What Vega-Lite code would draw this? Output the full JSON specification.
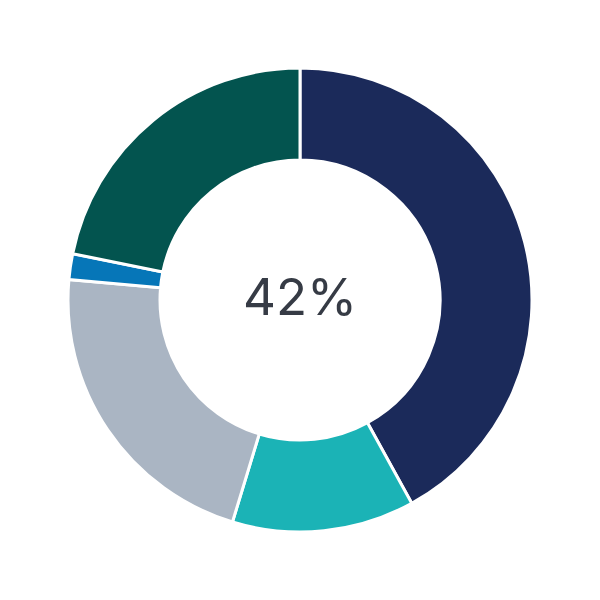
{
  "$schema": "https://vega.github.io/schema/vega-lite/v6.json",
  "width": 600,
  "height": 600,
  "autosize": {"type": "fit", "contains": "padding"},
  "padding": 0,
  "background": "white",
  "view": {"stroke": null},
  "layer": [
    {
      "data": {"values": [
        {"segment": "A", "order": 1, "value": 42.0},
        {"segment": "B", "order": 2, "value": 12.7},
        {"segment": "C", "order": 3, "value": 21.7},
        {"segment": "D", "order": 4, "value": 1.8},
        {"segment": "E", "order": 5, "value": 21.8}
      ]},
      "mark": {"type": "arc", "outerRadius": 232, "innerRadius": 140, "stroke": "white", "strokeWidth": 3},
      "encoding": {
        "theta": {"field": "value", "type": "quantitative", "stack": true},
        "order": {"field": "order", "type": "quantitative"},
        "color": {
          "field": "segment", "type": "nominal", "legend": null,
          "scale": {"domain": ["A", "B", "C", "D", "E"], "range": ["#1b2a5a", "#1bb3b6", "#aab5c3", "#0676b8", "#03544f"]}
        }
      }
    },
    {
      "data": {"values": [{"label": "42%"}]},
      "mark": {"type": "text", "fontSize": 51, "font": "Inter", "color": "#363b45", "align": "center", "baseline": "middle", "dy": 0},
      "encoding": {"text": {"field": "label", "type": "nominal"}}
    }
  ]
}
